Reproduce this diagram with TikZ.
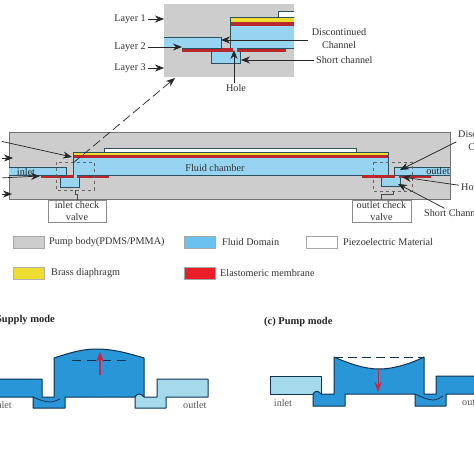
\documentclass[tikz,border=0pt]{standalone}
\usepackage{fontspec}
\setmainfont{Liberation Serif}
\usetikzlibrary{arrows.meta, positioning}
\definecolor{bodygray}{RGB}{205,205,205}
\definecolor{fluidblue}{RGB}{150,212,242}
\definecolor{legendblue}{RGB}{105,195,238}
\definecolor{brassyellow}{RGB}{238,222,50}
\definecolor{membranered}{RGB}{185,40,45}
\definecolor{legendred}{RGB}{232,30,40}
\definecolor{edgeteal}{RGB}{45,80,95}
\definecolor{activeblue}{RGB}{40,150,215}
\definecolor{idleblue}{RGB}{165,217,236}
\definecolor{edgenavy}{RGB}{15,50,80}
\definecolor{arrowred}{RGB}{205,35,65}

\begin{document}
\begin{tikzpicture}[
    x=1pt, y=-1pt,
    >={Stealth[length=9pt,width=7pt]},
    label/.style={font=\fontsize{10.2}{11}\selectfont, inner sep=0pt, text=black!80},
    pointer/.style={->, line width=0.7pt, black!85, shorten <=2pt},
    outline/.style={draw=edgeteal, line width=0.8pt},
    valvebox/.style={draw=black!45, line width=0.6pt, fill=white, font=\fontsize{10.2}{11.5}\selectfont, align=center, inner sep=0pt, minimum height=22pt, text=black!80},
    swatch/.style={draw=black!35, line width=0.7pt, minimum width=31pt, minimum height=12pt, inner sep=0pt},
    legendtext/.style={label, anchor=west},
    modefluid/.style={line width=1pt, draw=edgenavy, line join=round},
    modetext/.style={label, text=black!65},
    modetitle/.style={inner sep=0pt, text=black!85, font=\fontsize{10.5}{11}\selectfont\bfseries},
]
\clip (0,0) rectangle (474,474);
\fill[white] (0,0) rectangle (474,474);

% === DETALLE SUPERIOR ===
\fill[bodygray] (164,4) rectangle (294,77);
\fill[fluidblue] (164,37) rectangle (221,48);
\fill[fluidblue] (230,26) rectangle (294,48);
\fill[fluidblue] (221,48) rectangle (237,52);
\fill[fluidblue] (211,52) rectangle (240,63);
\fill[white] (278,11) rectangle (294,17);
\fill[brassyellow] (230,17) rectangle (294,22);
\fill[membranered] (230,22) rectangle (294,26);
\fill[membranered] (182,48) rectangle (233,52);
\fill[membranered] (237,48) rectangle (286,52);
\draw[outline] (294,11) -- (278,11) -- (278,17);
\draw[outline] (294,17) -- (230,17) -- (230,48);
\draw[outline] (164,37) -- (221,37) -- (221,48) -- (182,48);
\draw[outline] (237,48) -- (294,48);
\draw[outline] (211,52) -- (211,63) -- (240,63) -- (240,52);

\coordinate (layeronetip) at (164,19);
\coordinate (layertwotip) at (182,47);
\coordinate (layerthreetip) at (164,68);
\coordinate (gaptip) at (221,40);
\coordinate (gapstart) at (310,40);
\coordinate (holetip) at (234,50);
\coordinate (shorttip) at (241,60);
\node[label, anchor=east] (layerone) at (146,19) {Layer 1};
\node[label, anchor=east] (layertwo) at (146,47) {Layer 2};
\node[label, anchor=east] (layerthree) at (146,68) {Layer 3};
\node[label, align=center] (gaplabel) at (339,38.5) {Discontinued\\[2pt]Channel};
\node[label, anchor=west] (shortlabel) at (316,60) {Short channel};
\node[label] (holelabel) at (236,88.5) {Hole};
\draw[pointer] (layerone) -- (layeronetip);
\draw[pointer] (layertwo) -- (layertwotip);
\draw[pointer] (layerthree) -- (layerthreetip);
\draw[pointer] (gapstart) -- (gaptip);
\draw[pointer] (shortlabel) -- (shorttip);
\draw[pointer] (holelabel.north -| holetip) -- (holetip);

% === BOMBA COMPLETA ===
\fill[bodygray] (9,132) rectangle (450,199);
\draw[black!55, line width=0.5pt] (9,132) rectangle (450,199);
\fill[fluidblue] (73,158) rectangle (388,175);
\fill[fluidblue] (9,167) rectangle (66,175);
\fill[fluidblue] (394,167) rectangle (450,175);
\fill[fluidblue] (60,178) rectangle (79,187);
\fill[fluidblue] (381,178) rectangle (400,186);
\fill[fluidblue] (74,175) rectangle (77,178);
\fill[fluidblue] (395,175) rectangle (399,178);
\fill[white] (104,148) rectangle (356,152);
\fill[brassyellow] (73,152) rectangle (388,155);
\fill[membranered] (73,155) rectangle (388,158);
\fill[membranered] (41,175) rectangle (74,178);
\fill[membranered] (77,175) rectangle (109,178);
\fill[membranered] (362,175) rectangle (395,178);
\fill[membranered] (399,175) rectangle (431,178);
\draw[outline, line width=0.6pt] (104,152) -- (104,148) -- (356,148) -- (356,152);
\draw[outline] (73,175) -- (73,152) -- (388,152) -- (388,175);
\draw[outline] (9,167) -- (66,167) -- (66,175) -- (9,175);
\draw[outline] (77,175) -- (362,175);
\draw[outline] (450,167) -- (394,167) -- (394,175) -- (450,175);
\draw[outline] (60,178) -- (60,187) -- (79,187) -- (79,178);
\draw[outline] (381,178) -- (381,186) -- (400,186) -- (400,178);

% cajas de valvula
\draw[dashed, black!60, line width=0.6pt] (56,162) rectangle (94,190);
\draw[dashed, black!60, line width=0.6pt] (373,162) rectangle (412,191);
\node[valvebox, minimum width=58pt] (inletvalve) at (77,211) {inlet check\\valve};
\node[valvebox, minimum width=59pt] (outletvalve) at (381.5,211) {outlet check\\valve};
\coordinate (inletbox) at (75,190);
\coordinate (outletbox) at (393,191);
\draw[black!70, line width=0.6pt] (inletbox) -- (75,194) -- (77,194) -- (inletvalve.north);
\draw[black!70, line width=0.6pt] (outletbox) -- (393,194) -- (381.5,194) -- (outletvalve.north);

\node[label, text=black!85] (inletlabel) at (26,172) {inlet};
\node[label, text=black!85] (outletlabel) at (438,171) {outlet};
\node[label] (fluidlabel) at (215,168) {Fluid chamber};

% flechas de la izquierda
\coordinate (leftone) at (0,141);
\coordinate (leftonetip) at (72,157);
\coordinate (lefttwo) at (0,158);
\coordinate (lefttwotip) at (13,158);
\coordinate (leftthree) at (0,178);
\coordinate (leftthreetip) at (40,176);
\coordinate (leftfour) at (0,194);
\coordinate (leftfourtip) at (12,194);
\draw[pointer] (leftone) -- (leftonetip);
\draw[pointer] (lefttwo) -- (lefttwotip);
\draw[pointer] (leftthree) -- (leftthreetip);
\draw[pointer] (leftfour) -- (leftfourtip);

% etiquetas de la derecha
\coordinate (rightgaptip) at (400,170);
\coordinate (rightholetip) at (402,177);
\coordinate (rightshorttip) at (398,184);
\node[label, anchor=west, align=center] (rightgap) at (458,141) {Discontinued\\[2pt]Channel};
\node[label, anchor=west] (rightshort) at (424,213) {Short Channel};
\node[label, anchor=west] (righthole) at (461,187) {Hole};
\draw[pointer] (rightgap.west) -- (rightgaptip);
\draw[pointer] (righthole) -- (rightholetip);
\draw[pointer] (rightshort) -- (rightshorttip);

% flecha discontinua hacia el detalle
\coordinate (zoomstart) at (73,163);
\coordinate (zoomend) at (175,78);
\draw[->, dash pattern=on 9pt off 4pt, line width=0.7pt, black!85] (zoomstart) -- (zoomend);

% === LEYENDA ===
\node[swatch, fill=bodygray] (bodyswatch) at (28.5,242) {};
\node[swatch, fill=legendblue] (fluidswatch) at (199.5,242) {};
\node[swatch, fill=white] (piezoswatch) at (321.5,242) {};
\node[swatch, fill=brassyellow, draw=black!30] (brassswatch) at (28.5,273) {};
\node[swatch, fill=legendred] (membraneswatch) at (199.5,273) {};
\node[legendtext] (bodytext) at (49,242) {Pump body(PDMS/PMMA)};
\node[legendtext] (fluidtext) at (222,242) {Fluid Domain};
\node[legendtext] (piezotext) at (343,242) {Piezoelectric Material};
\node[legendtext] (brasstext) at (51,273) {Brass diaphragm};
\node[legendtext] (membranetext) at (220,273) {Elastomeric membrane};

% === MODO DE SUCCION ===
\node[modetitle, anchor=east] (supplytitle) at (55,320) {Supply mode};
\draw[modefluid, fill=activeblue] (-2,379) -- (42,379) -- (42,397) -- (54,397) -- (54,358)
    .. controls (75,351) and (85,349) .. (97,349) .. controls (110,349) and (125,352) .. (144,358)
    -- (144,397) -- (135,397) -- (65,397) -- (65,408) -- (33,408) -- (33,397) -- (-2,397) -- cycle;
\draw[modefluid, fill=idleblue] (135,397) .. controls (137,393) and (141,393) .. (144,397) -- (157,397) -- (157,379) -- (208,379) -- (208,397) -- (166,397) -- (166,408) -- (135,408) -- cycle;
\draw[edgenavy, line width=0.8pt] (33,397) .. controls (40,400) and (45,402) .. (50,402) .. controls (54,402) and (57,400) .. (60,399);
\draw[dash pattern=on 9pt off 6pt, edgenavy, line width=0.7pt] (72,360) -- (132,360);
\draw[->, >={Stealth[length=10pt,width=8pt]}, arrowred, line width=1.2pt] (100,375) -- (100,352);
\node[modetext, anchor=east] (supplyinlet) at (12,405) {inlet};
\node[modetext, anchor=west] (supplyoutlet) at (183,405) {outlet};

% === MODO DE BOMBEO ===
\node[modetitle, anchor=west] (pumptitle) at (264,322) {(c) Pump mode};
\draw[modefluid, fill=idleblue] (270,376) -- (321,376) -- (321,394) -- (270,394) -- cycle;
\draw[modefluid, fill=activeblue] (313,406) -- (313,394) .. controls (315,390) and (319,391) .. (321,394) -- (334,394) -- (334,357)
    .. controls (350,364) and (365,369) .. (379,369) .. controls (393,369) and (410,364) .. (424,357)
    -- (424,394) -- (436,394) -- (436,376) -- (476,376) -- (476,394) -- (446,394) -- (446,406) -- (415,406) -- (415,394) -- (345,394) -- (345,406) -- cycle;
\draw[edgenavy, line width=0.8pt] (415,394) .. controls (422,397) and (428,400) .. (433,400) .. controls (437,400) and (440,398) .. (443,396);
\draw[dash pattern=on 9pt off 5pt, edgenavy, line width=0.7pt] (334,357) -- (424,357);
\draw[->, >={Stealth[length=10pt,width=7pt]}, arrowred, line width=0.9pt] (378,369) -- (378,392);
\node[modetext] (pumpinlet) at (283,403) {inlet};
\node[modetext, anchor=west] (pumpoutlet) at (462,402) {outlet};

\end{tikzpicture}
\end{document}
